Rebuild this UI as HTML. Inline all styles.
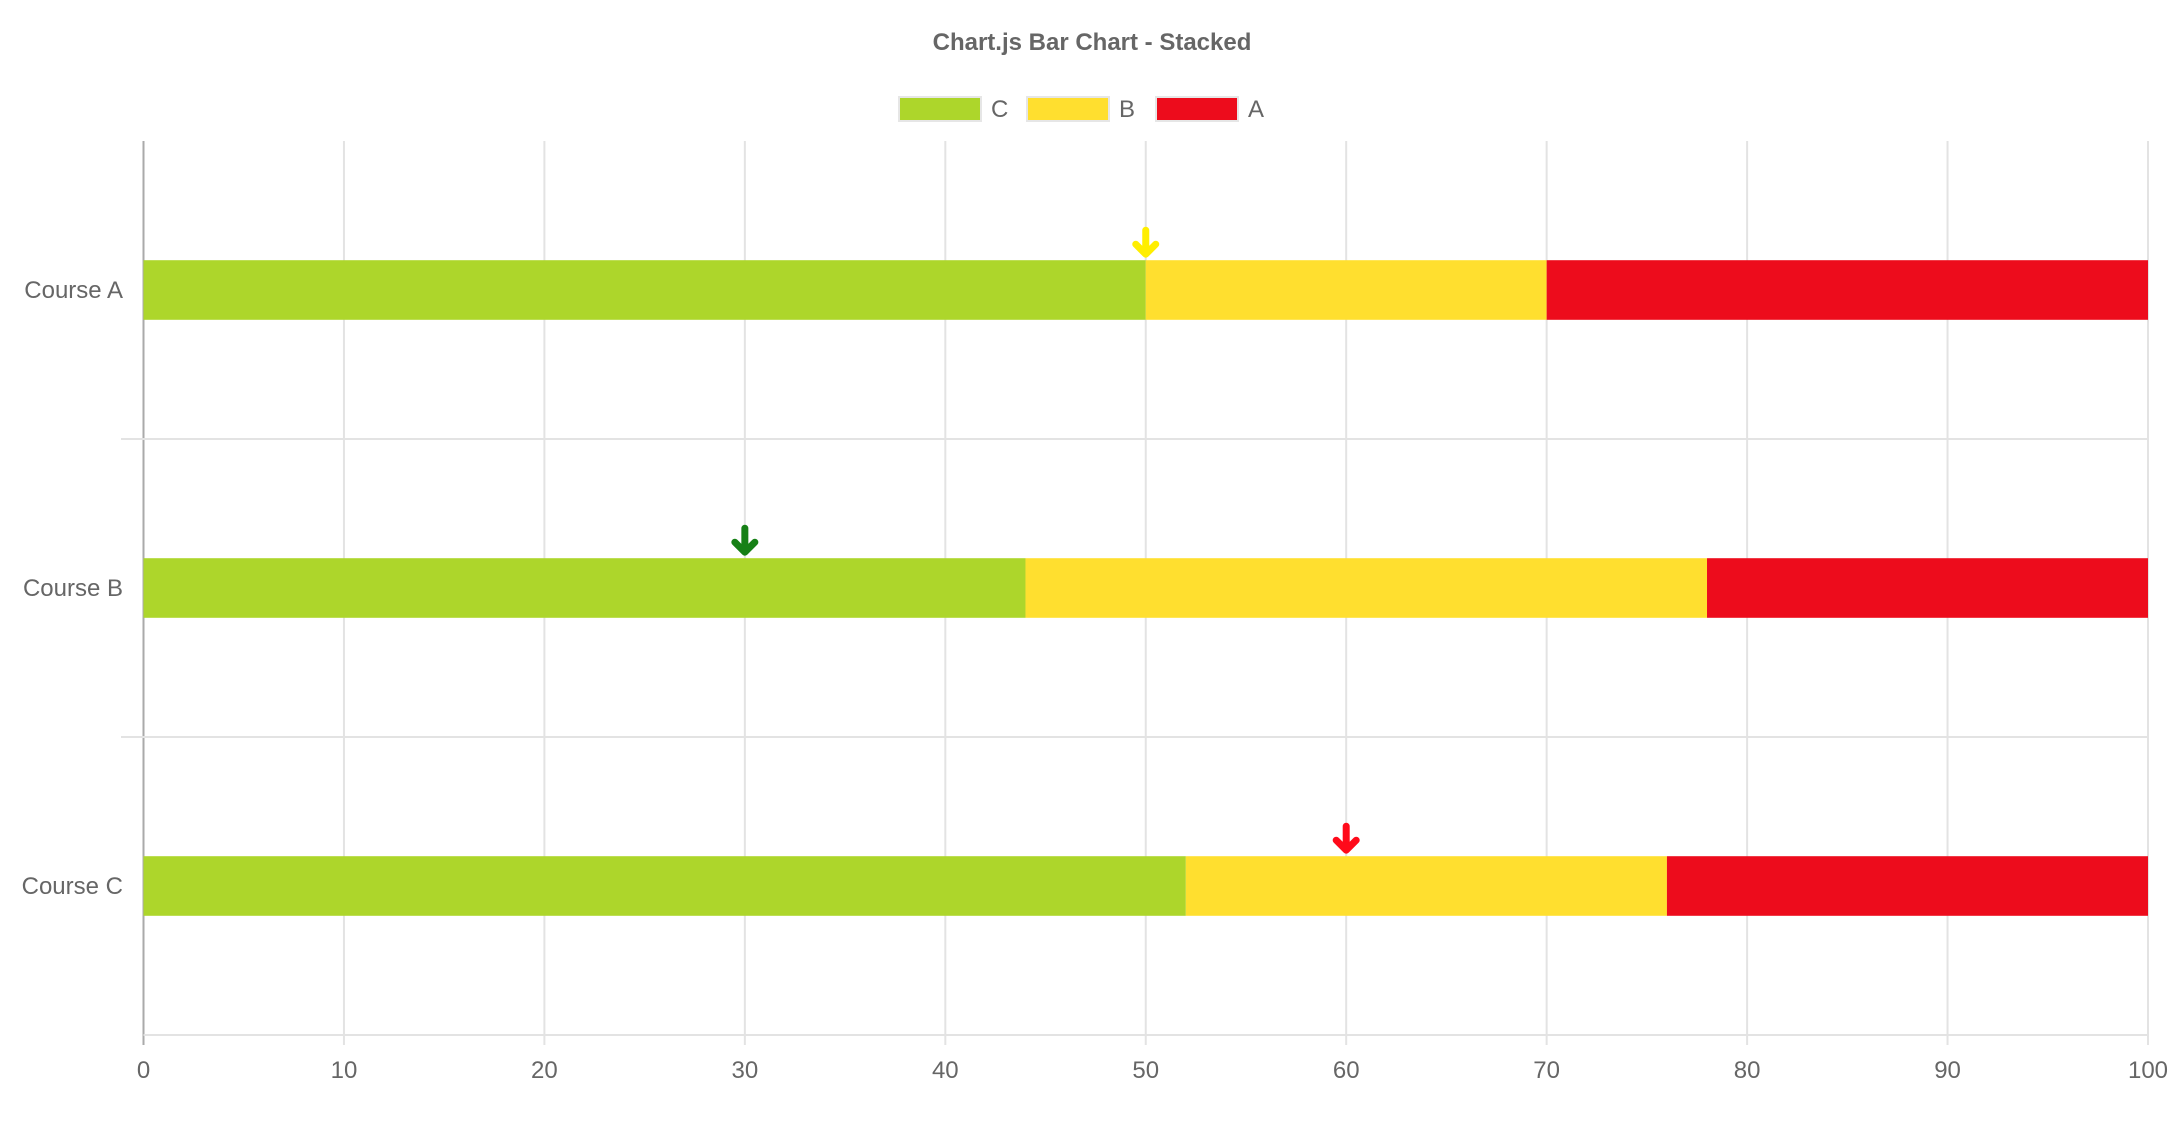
<!DOCTYPE html>
<html><head><meta charset="utf-8"><style>
html,body{margin:0;padding:0;background:#fff;}
svg{display:block;font-family:"Liberation Sans",Arial,sans-serif;}
</style></head><body>
<svg id="chart" width="2184" height="1136" viewBox="0 0 2184 1136" xmlns="http://www.w3.org/2000/svg">
<text x="1092" y="50" text-anchor="middle" font-size="24" font-weight="bold" fill="#666">Chart.js Bar Chart - Stacked</text>
<g>
 <g><rect x="899" y="97" width="82" height="24" fill="#add62b" stroke="#e6e6e6" stroke-width="2"/><text x="991" y="117" font-size="24" fill="#666">C</text></g>
 <g><rect x="1027" y="97" width="82" height="24" fill="#ffdf2f" stroke="#e6e6e6" stroke-width="2"/><text x="1119" y="117" font-size="24" fill="#666">B</text></g>
 <g><rect x="1156" y="97" width="82" height="24" fill="#ed0c1c" stroke="#e6e6e6" stroke-width="2"/><text x="1248" y="117" font-size="24" fill="#666">A</text></g>
</g>
<g id="grid"></g>
<g id="bars"></g>
<g id="markers"></g>
<g id="axes"></g>
</svg>
<script>
const categories = ["Course A", "Course B", "Course C"];
const seriesNames = ["C", "B", "A"];
const valuesC = [50, 44, 52];
const valuesB = [20, 34, 24];
const valuesA = [30, 22, 24];
const markerValues = [50, 30, 60];
const markerColors = ["#ffee00", "#168016", "#ff0a1a"];
const xTicks = [0, 10, 20, 30, 40, 50, 60, 70, 80, 90, 100];

const NS = "http://www.w3.org/2000/svg";
const L = 143.5, R = 2148, T = 141, B = 1035;
const xMax = 100;
const x = v => L + (v / xMax) * (R - L);
const band = (B - T) / categories.length;
const yc = i => T + band * (i + 0.5);
const barH = band * 0.2;
function mk(tag, attrs, parent) {
  const e = document.createElementNS(NS, tag);
  for (const k in attrs) e.setAttribute(k, attrs[k]);
  parent.appendChild(e);
  return e;
}
const grid = document.getElementById('grid');
const bars = document.getElementById('bars');
const markers = document.getElementById('markers');
const axes = document.getElementById('axes');

xTicks.forEach(t => {
  const g = mk('line', {x1: x(t), x2: x(t), y1: T, y2: B + 10, stroke: t === 0 ? '#aaa' : '#e3e3e3', 'stroke-width': 2}, grid);
  
  
  const lb = mk('text', {x: x(t), y: 1078, 'text-anchor': 'middle', 'font-size': 24, fill: '#666'}, axes);
  lb.textContent = t;
  
  
});
for (let i = 1; i <= categories.length; i++) {
  const yy = T + band * i;
  const x1 = i === categories.length ? L : 121;
  const g = mk('line', {x1: x1, x2: R, y1: yy, y2: yy, stroke: '#e3e3e3', 'stroke-width': 2}, grid);
  
  
}
const colors = ["#add62b", "#ffdf2f", "#ed0c1c"];
const series = [valuesC, valuesB, valuesA];
categories.forEach((c, i) => {
  let acc = 0;
  series.forEach((s, k) => {
    const r = mk('rect', {x: x(acc), y: yc(i) - barH / 2, width: x(acc + s[i]) - x(acc), height: barH, fill: colors[k]}, bars);
    
    
    acc += s[i];
  });
  const lb = mk('text', {x: 123, y: yc(i) + 8, 'text-anchor': 'end', 'font-size': 24, fill: '#666'}, axes);
  lb.textContent = c;
  
  
  const mx = x(markerValues[i]), top = yc(i) - barH / 2 - 30, bot = yc(i) - barH / 2 - 5;
  const a = mk('path', {d: `M${mx} ${top} V${bot - 3} M${mx - 10} ${bot - 11} L${mx} ${bot - 1} L${mx + 10} ${bot - 11}`, stroke: markerColors[i], 'stroke-width': 7, fill: 'none', 'stroke-linecap': 'round', 'stroke-linejoin': 'round'}, markers);
  
  
});
</script>
</body></html>
